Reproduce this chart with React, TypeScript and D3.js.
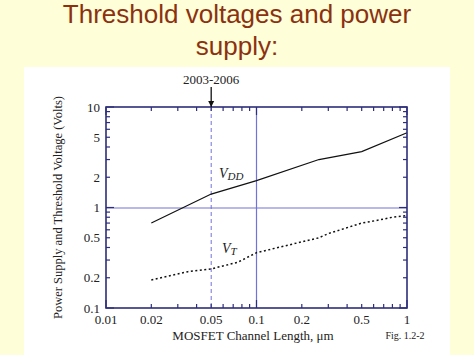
import React from "react";
import * as d3 from "d3";

const vddLength = [0.02, 0.05, 0.1, 0.26, 0.5, 1];
const vddVolts = [0.7, 1.36, 1.85, 3.0, 3.6, 5.55];
const vtLength = [0.02, 0.035, 0.05, 0.075, 0.1, 0.26, 0.3, 0.5, 0.65, 0.8, 1];
const vtVolts = [0.19, 0.23, 0.245, 0.285, 0.355, 0.5, 0.55, 0.7, 0.75, 0.8, 0.83];
const xTickLabels = [0.01, 0.02, 0.05, 0.1, 0.2, 0.5, 1];
const yTickLabels = [0.1, 0.2, 0.5, 1, 2, 5, 10];

const W = 474, H = 355;
const L = 106, R = 407, T = 107, B = 308;
const AXIS = "#2d2d7a";
const GRID = "#7272d8";
const SERIF = "'Liberation Serif', 'Times New Roman', serif";

export default function App() {
  const x = d3.scaleLog().domain([0.01, 1]).range([L, R]);
  const y = d3.scaleLog().domain([0.1, 10]).range([B, T]);
  const line = d3.line<[number, number]>().x((d) => x(d[0])).y((d) => y(d[1]));
  const vdd = line(vddLength.map((v, i) => [v, vddVolts[i]] as [number, number])) || "";
  const vt = line(vtLength.map((v, i) => [v, vtVolts[i]] as [number, number])) || "";

  const xTicks: { v: number; major: boolean }[] = [];
  [0.01, 0.1].forEach((d) => {
    for (let k = 1; k <= 9; k++) xTicks.push({ v: d * k, major: k === 1 });
  });
  xTicks.push({ v: 1, major: true });
  const yTicks: { v: number; major: boolean }[] = [];
  [0.1, 1].forEach((d) => {
    for (let k = 1; k <= 9; k++) yTicks.push({ v: d * k, major: k === 1 });
  });
  yTicks.push({ v: 10, major: true });

  const fmt = (v: number) => String(v);

  return (
    <svg width={W} height={H} style={{ position: "absolute", left: 0, top: 0 }}>
      <defs>
        <marker id="ah" viewBox="0 0 10 10" refX="10" refY="5" markerWidth="5" markerHeight="6" orient="auto">
          <path d="M0,0 L10,5 L0,10 z" fill="#111" />
        </marker>
      </defs>
      <rect x={0} y={0} width={W} height={H} fill="#fefed8" />
      <rect x={24} y={67} width={426} height={H - 67} fill="#ffffff" />
      <text x={237} y={23} textAnchor="middle" fontFamily="'Liberation Sans', Arial, sans-serif" fontSize={26} fill="#8b3110">
        Threshold voltages and power
      </text>
      <text x={237} y={55} textAnchor="middle" fontFamily="'Liberation Sans', Arial, sans-serif" fontSize={26} fill="#8b3110">
        supply:
      </text>

      {/* reference lines */}
      <line x1={L} x2={R} y1={Math.round(y(1))} y2={Math.round(y(1))} stroke={GRID} strokeWidth={1.2} />
      <line x1={x(0.1)} x2={x(0.1)} y1={T} y2={B} stroke={GRID} strokeWidth={1.2} />
      <line x1={x(0.05)} x2={x(0.05)} y1={T} y2={B} stroke={GRID} strokeWidth={1} strokeDasharray="4,3" />

      {/* data */}
      <path d={vdd} fill="none" stroke="#111" strokeWidth={1.2} />
      <path d={vt} fill="none" stroke="#111" strokeWidth={1.5} strokeDasharray="2,2.5" />

      {/* ticks */}
      {xTicks.map((t, i) => (
        <g key={"xt" + i}>
          <line x1={x(t.v)} x2={x(t.v)} y1={B} y2={B - (t.major ? 8 : 4)} stroke={AXIS} strokeWidth={1.2} />
          <line x1={x(t.v)} x2={x(t.v)} y1={T} y2={T + (t.major ? 8 : 4)} stroke={AXIS} strokeWidth={1.2} />
        </g>
      ))}
      {yTicks.map((t, i) => (
        <g key={"yt" + i}>
          <line x1={L} x2={L + (t.major ? 8 : 4)} y1={y(t.v)} y2={y(t.v)} stroke={AXIS} strokeWidth={1.2} />
          <line x1={R} x2={R - (t.major ? 8 : 4)} y1={y(t.v)} y2={y(t.v)} stroke={AXIS} strokeWidth={1.2} />
        </g>
      ))}
      <rect x={L} y={T} width={R - L} height={B - T} fill="none" stroke={AXIS} strokeWidth={1.6} />

      {/* tick labels */}
      {xTickLabels.map((v) => (
        <text key={"xl" + v} x={x(v)} y={324} textAnchor="middle" fontFamily={SERIF} fontSize={13} fill="#222">
          {fmt(v)}
        </text>
      ))}
      {yTickLabels.map((v) => (
        <text key={"yl" + v} x={100} y={y(v)} dy="0.35em" textAnchor="end" fontFamily={SERIF} fontSize={13} fill="#222">
          {fmt(v)}
        </text>
      ))}

      {/* titles */}
      <text x={253} y={340} textAnchor="middle" fontFamily={SERIF} fontSize={13} fill="#222">
        MOSFET Channel Length, μm
      </text>
      <text x={405} y={339} textAnchor="middle" fontFamily={SERIF} fontSize={10} fill="#222">
        Fig. 1.2-2
      </text>
      <text transform={`translate(62,${(T + B) / 2}) rotate(-90)`} textAnchor="middle" fontFamily={SERIF} fontSize={12.5} fill="#222">
        Power Supply and Threshold Voltage (Volts)
      </text>

      {/* annotations */}
      <text x={x(0.05)} y={84} textAnchor="middle" fontFamily={SERIF} fontSize={13} fill="#222">
        2003-2006
      </text>
      <line x1={x(0.05)} x2={x(0.05)} y1={87} y2={T} stroke="#111" strokeWidth={1.3} markerEnd="url(#ah)" />
      <text x={219} y={178} fontFamily={SERIF} fontSize={14} fontStyle="italic" fill="#222">
        V<tspan fontSize={11} dy={2}>DD</tspan>
      </text>
      <text x={222} y={253} fontFamily={SERIF} fontSize={14} fontStyle="italic" fill="#222">
        V<tspan fontSize={11} dy={2}>T</tspan>
      </text>
    </svg>
  );
}
